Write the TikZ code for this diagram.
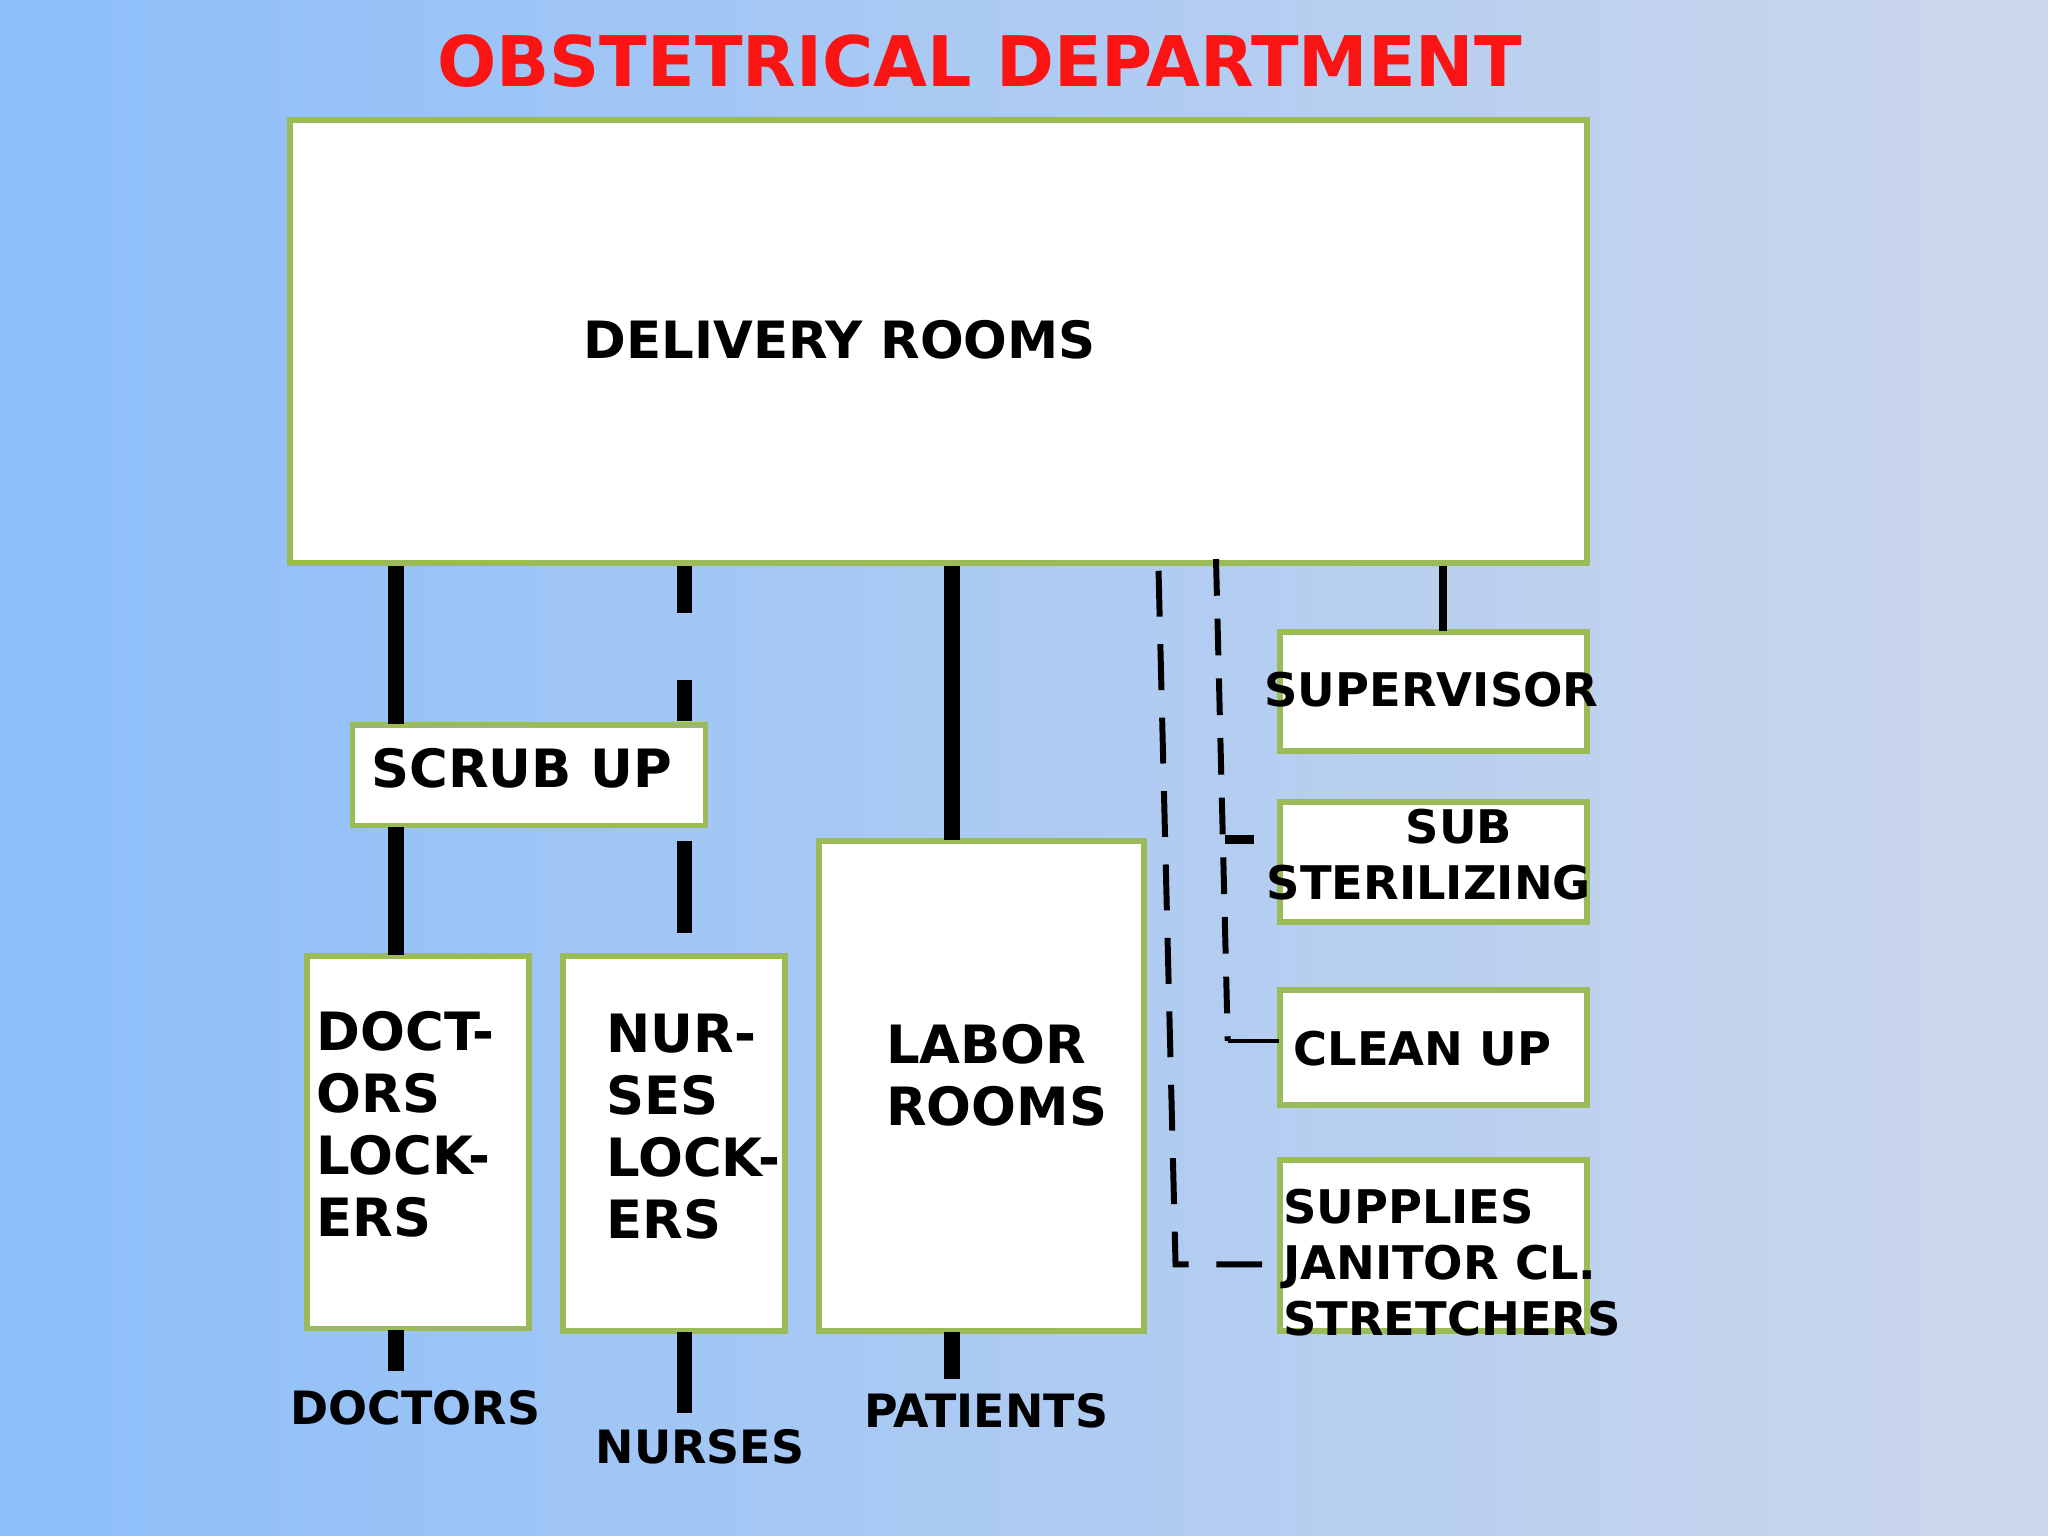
\documentclass[tikz,border=0pt]{standalone}
\usepackage{fontspec}
\setmainfont{DejaVu Sans}
\usetikzlibrary{positioning}
\definecolor{boxgreen}{RGB}{155,187,89}
\definecolor{titlered}{RGB}{250,20,20}
\tikzset{
	room/.style={draw=boxgreen, line width=1.2pt, fill=white, inner sep=2pt},
	lbl/.style={font=\bfseries\fontsize{11.5}{13.5}\selectfont, align=left},
	side/.style={lbl, font=\bfseries\fontsize{10.1}{12.2}\selectfont},
	way/.style={line width=3.4pt, black},
	thin/.style={line width=1.3pt, black},
}
\begin{document}
\begin{tikzpicture}[x=1cm,y=-1cm]
	\shade[left color={rgb,255:red,140;green,190;blue,250}, right color={rgb,255:red,205;green,215;blue,235}] (0,0) rectangle (15.68,11.76);
	\useasboundingbox (0,0) rectangle (15.68,11.76);
	\node[text=titlered, font=\bfseries\fontsize{15.2}{18}\selectfont] (title) at (7.5,0.47) {OBSTETRICAL DEPARTMENT};
	% rooms
	\draw[room] (2.22,0.92) rectangle (12.15,4.31);
	\node[lbl, font=\bfseries\fontsize{11.2}{13}\selectfont] (delivery) at (6.43,2.6) {DELIVERY ROOMS};
	\draw[room] (2.70,5.55) rectangle (5.40,6.32);
	\node[lbl, anchor=west] (scrub) at (2.72,5.88) {SCRUB UP};
	\draw[room] (2.35,7.32) rectangle (4.05,10.17);
	\node[lbl, anchor=north west] (doclock) at (2.30,7.62) {DOCT-\\ORS\\LOCK-\\ERS};
	\draw[room] (4.31,7.32) rectangle (6.01,10.19);
	\node[lbl, anchor=north west] (nurlock) at (4.52,7.64) {NUR-\\SES\\LOCK-\\ERS};
	\draw[room] (6.27,6.44) rectangle (8.76,10.19);
	\node[lbl, anchor=north west] (labor) at (6.66,7.72) {LABOR\\ROOMS};
	\draw[room] (9.80,4.84) rectangle (12.15,5.75);
	\node[side] (super) at (10.96,5.28) {SUPERVISOR};
	\draw[room] (9.80,6.14) rectangle (12.15,7.06);
	\node[side, align=center] (subster) at (10.94,6.54) {\hspace*{1.3em}SUB\\STERILIZING};
	\draw[room] (9.80,7.58) rectangle (12.15,8.46);
	\node[side, anchor=west] (clean) at (9.78,8.03) {CLEAN UP};
	\draw[room] (9.80,8.88) rectangle (12.15,10.19);
	\node[side, anchor=north west] (supplies) at (9.70,8.98) {SUPPLIES\\JANITOR CL.\\STRETCHERS};
	% entrances
	\node[lbl, font=\bfseries\fontsize{10}{12}\selectfont] (doctors) at (3.18,10.78) {DOCTORS};
	\node[lbl, font=\bfseries\fontsize{10}{12}\selectfont] (nurses) at (5.36,11.08) {NURSES};
	\node[lbl, font=\bfseries\fontsize{10}{12}\selectfont] (patients) at (7.55,10.80) {PATIENTS};
	% corridors
	\draw[way] (3.03,4.33) -- (3.03,5.54) (3.03,6.33) -- (3.03,7.31) (3.03,10.18) -- (3.03,10.50);
	\draw[way] (5.24,4.33) -- (5.24,4.69) (5.24,5.21) -- (5.24,5.52) (5.24,6.44) -- (5.24,7.14) (5.24,10.20) -- (5.24,10.82);
	\draw[way] (7.29,4.33) -- (7.29,6.43) (7.29,10.20) -- (7.29,10.56);
	\draw[line width=1.8pt] (11.05,4.33) -- (11.05,4.83);
	\draw[thin, dash pattern=on 10pt off 6pt] (8.87,4.37) -- (9.00,9.68) -- (9.79,9.68);
	\draw[thin, dash pattern=on 8pt off 5pt] (9.31,4.28) -- (9.40,7.97);
	\draw[line width=0.8pt] (9.40,7.97) -- (9.79,7.97);
	\draw[line width=2pt] (9.38,6.43) -- (9.60,6.43);
\end{tikzpicture}
\end{document}
